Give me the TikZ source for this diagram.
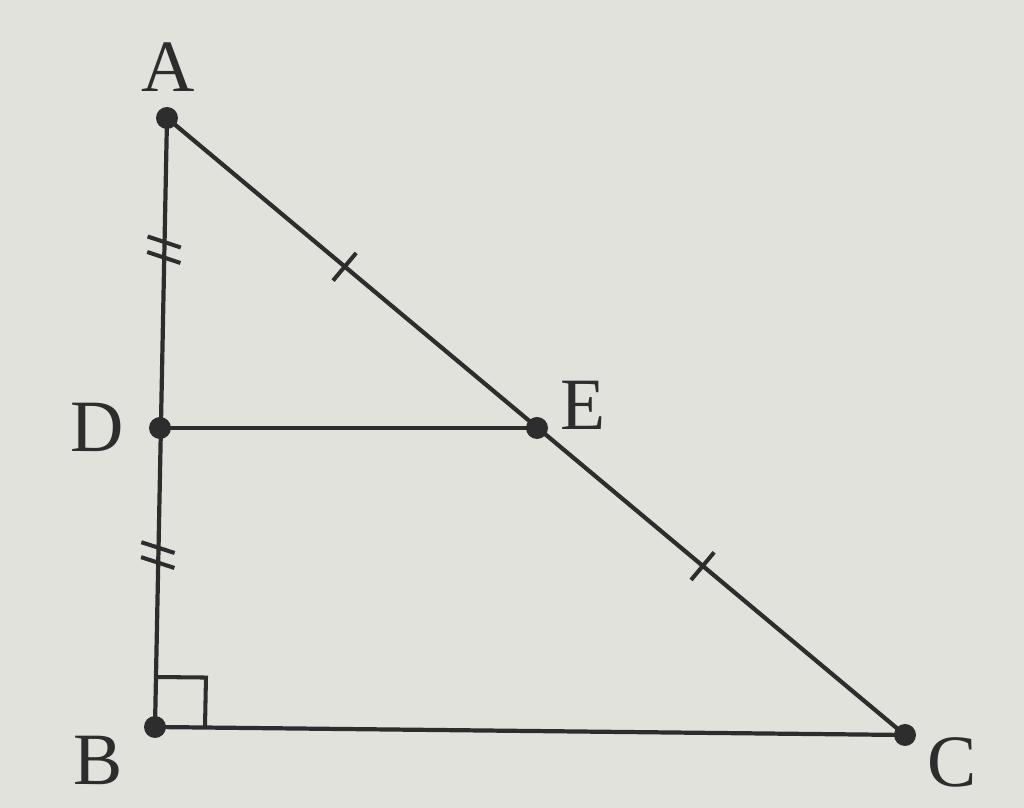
\documentclass[tikz,border=0pt]{standalone}
\usepackage{fontspec}
\setmainfont{Liberation Serif}
\usetikzlibrary{calc}
\definecolor{paper}{RGB}{226,226,221}
\definecolor{ink}{RGB}{45,45,45}
\tikzset{%
  side/.style={draw=ink, line width=1.2pt},
  tick/.style={draw=ink, line width=1.15pt},
  point/.style={circle, fill=ink, inner sep=0pt, minimum size=2.2mm},
  letter/.style={text=ink, font=\fontsize{21}{24}\selectfont, inner sep=0pt},
}

\begin{document}
\begin{tikzpicture}
\fill[paper] (0,0) rectangle (10.24,8.08);
\useasboundingbox (0,0) rectangle (10.24,8.08);

\coordinate (A) at (1.67,6.90);
\coordinate (B) at (1.55,0.81);
\coordinate (C) at (9.05,0.73);
\coordinate (D) at (1.60,3.80);
\coordinate (E) at (5.37,3.80);

% triangle and midline
\draw[side] (A) -- (B) -- (C) -- cycle;
\draw[side] (D) -- (E);

% right angle at B
\coordinate (ba) at ($(B)!5mm!(A)$);
\coordinate (bc) at ($(B)!5mm!(C)$);
\draw[tick] (ba) -- ($(ba)+(bc)-(B)$) -- (bc);

% equal parts
\foreach \t in {0.40,0.45}{
  \draw[tick] ($(A)!\t!(D)!1.75mm!-107:(D)$) -- ($(A)!\t!(D)!1.75mm!73:(D)$);
  \draw[tick] ($(D)!\t!(B)!1.75mm!-107:(B)$) -- ($(D)!\t!(B)!1.75mm!73:(B)$);
}
\draw[tick] ($(A)!0.48!(E)!1.8mm!-90:(E)$) -- ($(A)!0.48!(E)!1.8mm!90:(E)$);
\draw[tick] ($(E)!0.45!(C)!1.8mm!-90:(C)$) -- ($(E)!0.45!(C)!1.8mm!90:(C)$);

% points
\foreach \p in {A,B,C,D,E}
  \node[point] (p\p) at (\p) {};

% labels
\node[letter] (lA) at (1.68,7.41) {A};
\node[letter] (lD) at (0.97,3.81) {D};
\node[letter] (lE) at (5.83,4.03) {E};
\node[letter] (lB) at (0.98,0.48) {B};
\node[letter] (lC) at (9.52,0.46) {C};
\end{tikzpicture}
\end{document}
